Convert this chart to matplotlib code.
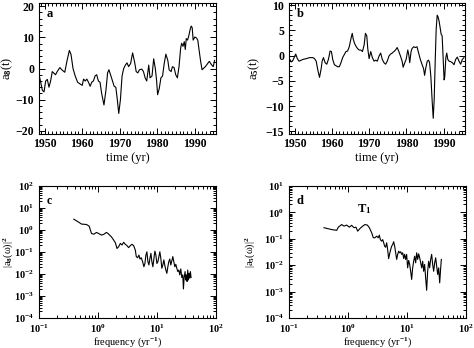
import numpy as np
import matplotlib
matplotlib.use("Agg")
import matplotlib.pyplot as plt
from matplotlib.ticker import MultipleLocator, LogLocator, NullFormatter

plt.rcParams['font.family'] = ['Liberation Serif', 'DejaVu Serif']
plt.rcParams['font.weight'] = 'bold'
plt.rcParams['mathtext.fontset'] = 'custom'
plt.rcParams['mathtext.rm'] = 'Liberation Serif:bold'
plt.rcParams['mathtext.it'] = 'Liberation Serif:italic:bold'
plt.rcParams['mathtext.bf'] = 'Liberation Serif:bold'
plt.rcParams['mathtext.default'] = 'rm'

# ---- panel a: time series ----
years_a = [1948.70, 1949.40, 1949.84, 1950.28, 1950.72, 1951.16, 1951.60, 1952.04, 1952.48, 1952.91,
           1953.35, 1954.06, 1954.67, 1955.37, 1955.99, 1956.60, 1957.04, 1957.57, 1958.18, 1958.80,
           1959.50, 1960.03, 1960.38, 1960.82, 1961.26, 1961.69, 1962.13, 1962.57, 1963.01, 1963.45,
           1963.89, 1964.33, 1964.77, 1965.21, 1965.82, 1966.35, 1966.79, 1967.14, 1967.58, 1968.10,
           1968.54, 1968.98, 1969.33, 1969.77, 1970.21, 1970.65, 1971.09, 1971.53, 1971.97, 1972.40,
           1972.93, 1973.46, 1973.99, 1974.42, 1974.86, 1975.30, 1975.92, 1976.36, 1976.80, 1977.23,
           1977.76, 1978.11, 1978.64, 1979.08, 1979.52, 1979.87, 1980.13, 1980.57, 1981.01, 1981.45,
           1981.89, 1982.33, 1982.85, 1983.20, 1983.73, 1984.08, 1984.52, 1984.96, 1985.40, 1985.84,
           1986.28, 1986.54, 1986.89, 1987.24, 1987.51, 1987.77, 1988.12, 1988.47, 1988.82, 1989.09,
           1989.35, 1989.61, 1990.05, 1990.49, 1990.84, 1991.28, 1991.63, 1991.98, 1992.42, 1992.86,
           1993.48, 1993.92, 1994.44, 1994.97, 1995.32]
vals_a = [-3.0, -7.0, -7.5, -4.0, -3.5, -6.0, -4.0, -1.0, -1.5, -2.0,
          -1.0, 0.3, -0.5, -1.2, 2.6, 5.8, 4.5, 0.0, -2.5, -4.4,
          -5.0, -5.4, -3.4, -4.0, -3.4, -4.4, -5.7, -4.4, -4.0, -2.4,
          -2.0, -4.0, -4.4, -8.0, -11.7, -7.0, -1.4, -0.4, -2.0, -4.0,
          -5.7, -6.0, -9.4, -14.4, -10.0, -2.4, 0.0, 1.1, 1.8, 0.6,
          1.6, 5.0, 2.1, -1.0, -1.4, -0.4, -0.2, -1.0, -3.0, -4.0,
          1.1, -3.0, -2.4, 3.1, 0.0, -4.0, -8.4, -6.4, -3.0, -2.4,
          1.6, 4.6, 2.6, -0.4, -1.0, 0.6, 0.3, -2.0, -3.0, 0.6,
          6.6, 8.1, 7.1, 8.6, 6.1, 9.6, 9.1, 10.6, 12.6, 13.6,
          13.1, 9.1, 10.1, 9.8, 9.1, 5.1, 2.1, -0.4, 0.1, 0.6,
          1.6, 2.3, 1.3, 0.6, 2.6]

# ---- panel b: time series ----
years_b = [1948.70, 1949.14, 1949.59, 1950.03, 1950.30, 1950.74, 1951.18, 1951.80, 1952.25, 1953.13,
           1954.02, 1954.91, 1955.35, 1955.79, 1956.24, 1956.68, 1957.12, 1957.39, 1957.74, 1958.19,
           1958.63, 1959.07, 1959.52, 1959.87, 1960.22, 1960.67, 1961.11, 1961.55, 1962.00, 1962.44,
           1962.88, 1963.33, 1963.77, 1964.21, 1964.66, 1965.10, 1965.46, 1965.72, 1966.08, 1966.43,
           1966.87, 1967.32, 1967.76, 1968.20, 1968.65, 1969.00, 1969.36, 1969.62, 1969.98, 1970.42,
           1970.86, 1971.31, 1971.75, 1972.19, 1972.64, 1973.08, 1973.52, 1973.97, 1974.41, 1974.85,
           1975.30, 1975.74, 1976.18, 1976.63, 1977.07, 1977.51, 1977.96, 1978.40, 1978.84, 1979.11,
           1979.55, 1979.91, 1980.35, 1980.62, 1980.88, 1981.24, 1981.50, 1981.94, 1982.39, 1982.83,
           1983.27, 1983.72, 1984.16, 1984.60, 1984.87, 1985.22, 1985.58, 1985.93, 1986.20, 1986.55,
           1986.91, 1987.18, 1987.44, 1987.71, 1987.97, 1988.24, 1988.50, 1988.77, 1989.04, 1989.30,
           1989.57, 1989.83, 1990.10, 1990.27, 1990.56, 1990.81, 1991.08, 1991.43, 1991.87, 1992.32,
           1992.76, 1993.20, 1993.64, 1994.09, 1994.53, 1994.98, 1995.42]
vals_b = [-0.75, -1.25, -0.9, -0.1, 0.3, -0.6, -1.1, -0.9, -0.75, -0.6,
          -0.4, -0.4, -0.6, -1.1, -2.9, -4.3, -2.6, -1.1, -0.4, -1.4,
          -1.7, -0.75, 0.9, 0.8, -0.75, -1.8, -2.0, -2.2, -2.2, -1.4,
          -0.4, 0.2, 0.8, 0.9, 1.75, 3.3, 4.4, 3.3, 2.4, 1.9,
          1.4, 1.1, 1.1, 0.8, 2.1, 4.4, 3.9, 1.4, -0.6, 0.8,
          -0.4, -1.1, -0.9, -1.1, -0.1, 0.5, -0.75, -1.4, -1.7, -1.1,
          -0.1, 0.3, 0.5, 0.8, 1.1, 1.6, 0.8, -0.1, -1.1, -2.3,
          -1.4, -0.75, 1.1, 0.2, -1.4, 0.8, 1.4, 1.75, 1.6, 1.75,
          0.5, -0.75, -1.7, -2.6, -3.9, -2.3, -1.1, -0.9, -1.4, -4.2,
          -9.2, -12.4, -8.6, -1.1, 5.2, 8.0, 7.6, 6.75, 5.5, 4.25,
          3.9, -0.4, -4.8, -4.2, -0.4, 0.5, -0.75, -1.1, -1.2, -1.4,
          -1.8, -0.75, -0.3, -1.1, -1.7, -0.75, -0.4]

# ---- panel c: power spectrum (log10 frequency, log10 power) ----
logf_c = [-0.409, -0.336, -0.28, -0.195, -0.15, -0.11, -0.07, -0.026, 0.019, 0.058,
          0.097, 0.142, 0.17, 0.227, 0.266, 0.294, 0.322, 0.35, 0.379, 0.407,
          0.435, 0.463, 0.491, 0.519, 0.548, 0.576, 0.604, 0.632, 0.649, 0.671,
          0.694, 0.711, 0.733, 0.756, 0.778, 0.795, 0.812, 0.829, 0.846, 0.863,
          0.88, 0.897, 0.913, 0.93, 0.947, 0.964, 0.981, 0.998, 1.015, 1.032,
          1.048, 1.065, 1.082, 1.099, 1.116, 1.133, 1.15, 1.167, 1.184, 1.2,
          1.217, 1.234, 1.251, 1.268, 1.285, 1.302, 1.319, 1.336, 1.352, 1.369,
          1.386, 1.403, 1.42, 1.437, 1.448, 1.459, 1.476, 1.487, 1.499, 1.51,
          1.521, 1.532, 1.544, 1.555, 1.566, 1.577]
logp_c = [0.49, 0.37, 0.27, 0.25, 0.175, -0.16, -0.19, -0.11, -0.17, -0.23,
          -0.2, -0.11, -0.16, -0.31, -0.46, -0.58, -0.84, -0.76, -0.61, -0.68,
          -0.56, -0.65, -0.71, -0.8, -0.71, -0.65, -0.71, -0.91, -1.21, -1.26,
          -1.14, -1.32, -1.26, -1.44, -1.67, -1.52, -1.14, -0.99, -1.44, -1.59,
          -1.29, -1.06, -1.44, -1.67, -1.32, -0.96, -1.14, -1.52, -1.44, -1.21,
          -0.99, -1.29, -1.74, -1.59, -1.36, -1.62, -1.82, -1.97, -1.67, -1.44,
          -1.32, -1.59, -1.41, -1.21, -1.44, -1.67, -1.56, -1.74, -1.89, -1.82,
          -2.04, -1.77, -2.16, -2.04, -2.68, -2.19, -1.89, -2.27, -2.04, -2.34,
          -1.82, -2.27, -1.97, -2.19, -1.89, -2.16]

# ---- panel d: power spectrum (log10 frequency, log10 power) ----
logf_d = [-0.407, -0.277, -0.192, -0.164, -0.107, -0.068, -0.023, 0.023, 0.062, 0.102,
          0.136, 0.164, 0.203, 0.249, 0.288, 0.328, 0.362, 0.401, 0.429, 0.458,
          0.486, 0.514, 0.531, 0.548, 0.571, 0.588, 0.605, 0.621, 0.638, 0.655,
          0.672, 0.689, 0.706, 0.723, 0.74, 0.757, 0.774, 0.791, 0.808, 0.825,
          0.842, 0.859, 0.876, 0.893, 0.91, 0.927, 0.944, 0.96, 0.977, 0.994,
          1.011, 1.028, 1.045, 1.062, 1.079, 1.096, 1.113, 1.13, 1.147, 1.164,
          1.181, 1.198, 1.215, 1.232, 1.249, 1.266, 1.282, 1.299, 1.316, 1.333,
          1.35, 1.367, 1.384, 1.401, 1.418, 1.435, 1.452, 1.469, 1.486, 1.503,
          1.52, 1.537, 1.554, 1.571, 1.582]
logp_d = [-0.58, -0.65, -0.68, -0.56, -0.46, -0.52, -0.48, -0.56, -0.49, -0.58,
          -0.56, -0.71, -0.61, -0.52, -0.46, -0.48, -0.58, -0.77, -0.96, -0.96,
          -0.9, -0.96, -0.86, -1.03, -1.09, -1.03, -1.15, -1.28, -1.32, -1.15,
          -1.41, -1.75, -1.57, -1.41, -1.28, -1.22, -1.11, -1.28, -1.53, -1.78,
          -1.59, -1.47, -1.53, -1.49, -1.59, -1.53, -1.75, -1.59, -1.78, -1.59,
          -2.1, -1.82, -1.97, -2.23, -2.54, -2.1, -1.85, -1.66, -1.91, -1.53,
          -1.78, -1.57, -1.72, -1.91, -2.1, -1.85, -2.23, -1.97, -2.48, -2.95,
          -2.23, -1.85, -2.1, -1.78, -1.59, -1.97, -2.23, -1.91, -1.72, -2.04,
          -2.35, -2.1, -2.67, -2.1, -1.78]

W, H = 474, 348
fig = plt.figure(figsize=(W / 100, H / 100), dpi=100)


def px_axes(l, t, r, b):
    return fig.add_axes([l / W, 1 - b / H, (r - l) / W, (b - t) / H])


FS = 8.5


def style(ax, fs=FS, pad=3):
    ax.tick_params(which='both', direction='in', top=True, right=True,
                   labelsize=fs, width=0.7)
    ax.tick_params(axis='x', pad=pad)
    ax.tick_params(which='major', length=4)
    ax.tick_params(which='minor', length=2)
    for s in ax.spines.values():
        s.set_linewidth(0.8)


lw = 0.8

# a
ax = px_axes(39, 3, 216, 134)
ax.plot(years_a, vals_a, color='black', lw=lw)
ax.set_xlim(1948.5, 1995.7)
ax.set_ylim(-21, 21)
ax.xaxis.set_major_locator(MultipleLocator(10))
ax.xaxis.set_minor_locator(MultipleLocator(1))
ax.yaxis.set_major_locator(MultipleLocator(10))
ax.yaxis.set_minor_locator(MultipleLocator(2))
style(ax)
ax.set_xlabel('time (yr)', fontsize=FS + 0.5)
ax.xaxis.set_label_coords(0.5, -0.135)
ax.set_ylabel('a$_8$(t)', fontsize=FS + 0.5)
ax.yaxis.set_label_coords(-0.135, 0.5)
ax.text(0.045, 0.96, 'a', transform=ax.transAxes, fontsize=FS + 0.5, va='top', ha='left')

# b
ax = px_axes(289, 3, 465, 134)
ax.plot(years_b, vals_b, color='black', lw=lw)
ax.set_xlim(1948.5, 1995.7)
ax.set_ylim(-15.5, 10.4)
ax.xaxis.set_major_locator(MultipleLocator(10))
ax.xaxis.set_minor_locator(MultipleLocator(1))
ax.yaxis.set_major_locator(MultipleLocator(5))
ax.yaxis.set_minor_locator(MultipleLocator(1))
style(ax)
ax.set_xlabel('time (yr)', fontsize=FS + 0.5)
ax.xaxis.set_label_coords(0.5, -0.135)
ax.set_ylabel('a$_5$(t)', fontsize=FS + 0.5)
ax.yaxis.set_label_coords(-0.155, 0.5)
ax.text(0.045, 0.96, 'b', transform=ax.transAxes, fontsize=FS + 0.5, va='top', ha='left')


def log_axes(ax, ylo, yhi):
    ax.set_xscale('log')
    ax.set_yscale('log')
    ax.set_xlim(1e-1, 1e2)
    ax.set_ylim(ylo, yhi)
    ax.xaxis.set_major_locator(LogLocator(base=10, numticks=10))
    ax.yaxis.set_major_locator(LogLocator(base=10, numticks=10))
    ax.xaxis.set_minor_locator(LogLocator(base=10, subs=np.arange(2, 10), numticks=20))
    ax.yaxis.set_minor_locator(LogLocator(base=10, subs=np.arange(2, 10), numticks=20))
    ax.xaxis.set_minor_formatter(NullFormatter())
    ax.yaxis.set_minor_formatter(NullFormatter())
    style(ax, fs=7.5, pad=3)


XL = 7.5

# c
ax = px_axes(39, 186, 216, 318)
ax.plot(10 ** np.array(logf_c), 10 ** np.array(logp_c), color='black', lw=lw)
log_axes(ax, 1e-4, 1e2)
ax.set_xlabel('frequency (yr$^{-1}$)', fontsize=XL)
ax.xaxis.set_label_coords(0.5, -0.13)
ax.set_ylabel('|a$_8$(ω)|$^2$', fontsize=7.5)
ax.yaxis.set_label_coords(-0.135, 0.5)
ax.text(0.045, 0.93, 'c', transform=ax.transAxes, fontsize=FS, va='top', ha='left')

# d
ax = px_axes(289, 186, 466, 318)
ax.plot(10 ** np.array(logf_d), 10 ** np.array(logp_d), color='black', lw=lw)
log_axes(ax, 1e-4, 1e1)
ax.set_xlabel('frequency (yr$^{-1}$)', fontsize=XL)
ax.xaxis.set_label_coords(0.5, -0.13)
ax.set_ylabel('|a$_5$(ω)|$^2$', fontsize=7.5)
ax.yaxis.set_label_coords(-0.18, 0.5)
ax.text(0.045, 0.93, 'd', transform=ax.transAxes, fontsize=FS + 0.5, va='top', ha='left')
ax.text(1.85, 1.3, 'T$_1$', fontsize=FS + 0.5, ha='center', va='center')

fig.savefig('out.png', dpi=100)
